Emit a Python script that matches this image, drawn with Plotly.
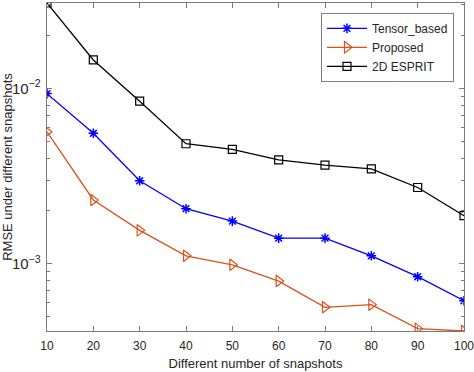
import plotly.graph_objects as go
import math

snapshots = [10, 20, 30, 40, 50, 60, 70, 80, 90, 100]
tensor_based = [0.00932, 0.00554, 0.00297, 0.00206, 0.00175, 0.00140, 0.00140, 0.00111, 0.000844, 0.000616]
proposed = [0.00565, 0.00231, 0.00155, 0.00111, 0.000987, 0.000797, 0.000565, 0.000585, 0.000427, 0.000414]
esprit_2d = [0.0306, 0.0145, 0.00844, 0.00483, 0.00448, 0.00391, 0.00365, 0.00347, 0.00272, 0.00188]
x_ticks = [10, 20, 30, 40, 50, 60, 70, 80, 90, 100]

fig = go.Figure()
fig.add_trace(go.Scatter(x=snapshots, y=tensor_based, name="Tensor_based", mode="lines+markers",
                         line=dict(color="#0000FF", width=1.3),
                         marker=dict(symbol="asterisk-open", size=8, line=dict(color="#0000FF", width=1.5))))
fig.add_trace(go.Scatter(x=snapshots, y=proposed, name="Proposed", mode="lines+markers",
                         line=dict(color="#D95319", width=1.3),
                         marker=dict(symbol="triangle-right-open", size=10, color="#D95319",
                                     line=dict(color="#D95319", width=1.2))))
fig.add_trace(go.Scatter(x=snapshots, y=esprit_2d, name="2D ESPRIT", mode="lines+markers",
                         line=dict(color="#000000", width=1.3),
                         marker=dict(symbol="square-open", size=8, color="#000000",
                                     line=dict(color="#000000", width=1.2))))

axis_col = "#7a7a7a"
fig.update_layout(
    width=474, height=372,
    margin=dict(l=47, r=10, t=3, b=41, autoexpand=False),
    paper_bgcolor="white", plot_bgcolor="white",
    font=dict(family="Liberation Sans, Arial, sans-serif", color="#262626", size=12),
    showlegend=True,
    legend=dict(x=0.976, y=0.970, xanchor="right", yanchor="top",
                bgcolor="white", bordercolor="#808080", borderwidth=1,
                font=dict(size=12), tracegroupgap=0, itemwidth=40),
)
fig.update_xaxes(
    range=[10, 100], tickvals=x_ticks, ticks="inside", ticklen=5, tickcolor=axis_col,
    showline=True, linecolor=axis_col, linewidth=1, mirror="ticks", showgrid=False, zeroline=False,
    title=dict(text="Different number of snapshots", standoff=6, font=dict(size=13)),
    tickfont=dict(size=12),
    automargin=False, ticklabeloverflow="allow", ticklabelstandoff=4,
)
fig.update_yaxes(
    type="log", range=[math.log10(proposed[-1]), math.log10(esprit_2d[0])],
    dtick=1, exponentformat="power", ticks="inside", ticklen=5, tickcolor=axis_col,
    showline=True, linecolor=axis_col, linewidth=1, mirror="ticks", showgrid=False, zeroline=False,
    minor=dict(ticks="inside", ticklen=3, tickcolor=axis_col, tickwidth=1, dtick="D1", showgrid=False),
    title=dict(text="RMSE under different snapshots", standoff=5, font=dict(size=13)),
    tickfont=dict(size=12),
    automargin=False, ticklabeloverflow="allow", ticklabelstandoff=3,
)
fig.write_html("out.html", config={"displayModeBar": False},
               post_script="document.body.style.margin='0';document.body.style.overflow='hidden';")
